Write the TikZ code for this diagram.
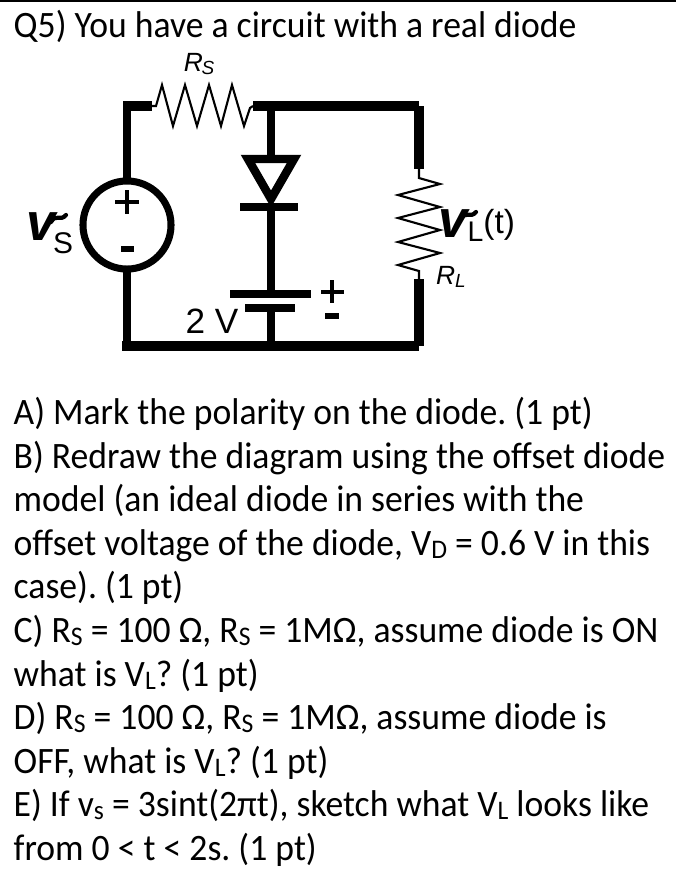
\documentclass[tikz,border=0pt]{standalone}
\usepackage{amsmath}
\usepackage{fontspec}
\setmainfont[FakeStretch=0.956]{Carlito}
\newfontfamily\arialfont{Liberation Sans}
\usepackage{tikz}
\frenchspacing

\tikzset{
  wire/.style={line width=3.1pt},
  thinwire/.style={line width=0.6pt},
  mainline/.style={anchor=base west, inner sep=0pt, font=\fontsize{10.6pt}{12pt}\selectfont},
  circlabel/.style={inner sep=0pt, font=\arialfont\fontsize{7.5pt}{8pt}\selectfont},
  biglabel/.style={inner sep=0pt, font=\arialfont\fontsize{9.5pt}{10pt}\selectfont},
  voltlabel/.style={inner sep=0pt, font=\arialfont\bfseries\itshape\fontsize{15pt}{16pt}\selectfont},
  tail/.style={line width=1.2pt, line cap=round},
  sign/.style={line width=1.4pt}
}
\newcommand{\lowtext}[1]{\raisebox{-0.2ex}{\scalebox{0.72}{#1}}}

\begin{document}
\begin{tikzpicture}[x=0.01cm,y=-0.01cm]
      \useasboundingbox (0,0) rectangle (676,896);

      % Rule along the top edge
      \draw[line width=0.6pt] (0,1) -- (676,1);

      % Question title
      \node[mainline] (title) at (13,37) {Q5) You have a circuit with a real diode};

      % Corner and junction points of the loop
      \coordinate (tl) at (127,106);
      \coordinate (rsin) at (152,106);
      \coordinate (rsout) at (253,106);
      \coordinate (top) at (271,106);
      \coordinate (tr) at (419,106);
      \coordinate (rltop) at (419,169);
      \coordinate (rlbot) at (419,279);
      \coordinate (br) at (419,346);
      \coordinate (bot) at (271,346);
      \coordinate (bl) at (127,346);

      % Source on the left
      \node[circle, draw, line width=2pt, minimum size=0.88cm, inner sep=0pt, outer sep=0pt] (src) at (127,225) {};
      \draw[line width=2pt] (tl) -- (src.north);
      \draw[line width=2pt] (src.south) -- (bl);
      \draw[wire] (123,106) -- (rsin);
      \draw[sign] (115,202) -- (139,202) (127,190) -- (127,214);
      \draw[line width=1.7pt] (121,249) -- (134,249);
      \node[voltlabel] (vs) at (41,227) {v};
      \node[circlabel, font=\arialfont\fontsize{8.5pt}{9pt}\selectfont] (vssub) at (63,243) {S};
      \draw[tail] (51,222) .. controls (56,213) and (60,222) .. (66,215);

      % Series resistor
      \draw[thinwire] (rsin) -- (156,106) -- (162,85) -- (173,126) -- (185,85) -- (197,126)
            -- (209,85) -- (221,126) -- (232,85) -- (244,126) -- (250,108) -- (rsout);
      \node[circlabel] (rs) at (199,64) {\textit{R\lowtext{\kern-0.5pt S}}};
      \draw[wire] (rsout) -- (tr);

      % Diode and cell in the middle branch
      \draw[line width=2.5pt] (top) -- (271,155);
      \draw[line width=2.4pt, line join=miter] (248,159) -- (294,159) -- (271,199) -- cycle;
      \draw[line width=2.4pt] (240,207) -- (298,207);
      \draw[line width=2.5pt] (271,207) -- (271,294);
      \draw[line width=2.4pt] (230,294) -- (311,294);
      \draw[line width=2.4pt] (245,308) -- (295,308);
      \draw[line width=2.5pt] (271,308) -- (bot);
      \node[biglabel, font=\arialfont\fontsize{10pt}{11pt}\selectfont] (cell) at (212,321) {2 V};
      \draw[sign] (321,292) -- (344,292) (332,280) -- (332,303);
      \draw[line width=1.7pt] (325,316) -- (339,316);

      % Load on the right
      \draw[wire] (tr) -- (rltop);
      \draw[thinwire] (rltop) -- (419,178) -- (440,184) -- (398,195) -- (440,207) -- (398,218)
            -- (440,230) -- (398,242) -- (440,253) -- (398,265) -- (419,271) -- (rlbot);
      \draw[wire] (rlbot) -- (br);
      \node[voltlabel] (vl) at (453,224) {v};
      \draw[tail] (461,219) .. controls (466,210) and (470,219) .. (476,212);
      \node[biglabel, anchor=west] (vlt) at (467,225) {\raisebox{-0.45ex}{\scalebox{0.85}{L}}(t)};
      \node[circlabel] (rl) at (451,277) {\textit{R\lowtext{L}}};

      % Bottom wire
      \draw[wire] (122,346) -- (br);

      % Questions
      \node[mainline] (qa) at (13,424) {A) Mark the polarity on the diode. (1 pt)};
      \node[mainline] (qb) at (13,468) {B) Redraw the diagram using the offset diode};
      \node[mainline] (qb2) at (13,511) {model (an ideal diode in series with the};
      \node[mainline] (qb3) at (13,555) {offset voltage of the diode, V\lowtext{D} = 0.6 V in this};
      \node[mainline] (qb4) at (13,598) {case). (1 pt)};
      \node[mainline] (qc) at (13,642) {C) R\lowtext{S} = 100 Ω, R\lowtext{S} = 1MΩ, assume diode is ON};
      \node[mainline] (qc2) at (13,686) {what is V\lowtext{L}? (1 pt)};
      \node[mainline] (qd) at (13,729) {D) R\lowtext{S} = 100 Ω, R\lowtext{S} = 1MΩ, assume diode is};
      \node[mainline] (qd2) at (13,773) {OFF, what is V\lowtext{L}? (1 pt)};
      \node[mainline] (qe) at (13,816) {E) If v\lowtext{s} = 3sint(2πt), sketch what V\lowtext{L} looks like};
      \node[mainline] (qe2) at (13,860) {from 0 < t < 2s. (1 pt)};
\end{tikzpicture}
\end{document}
